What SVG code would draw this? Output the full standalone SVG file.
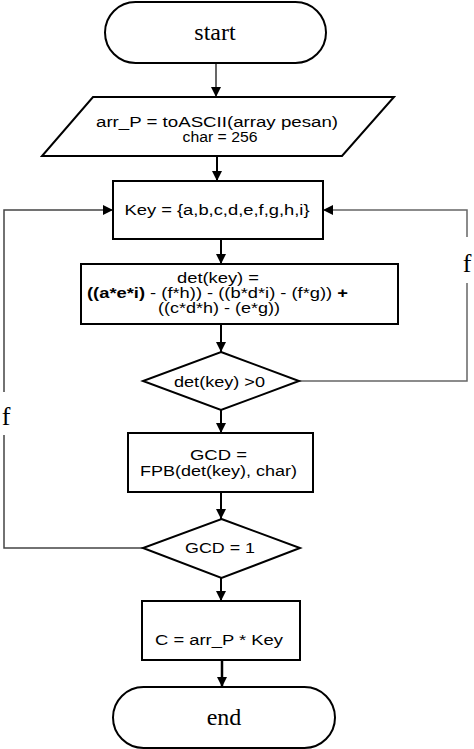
<svg xmlns="http://www.w3.org/2000/svg" width="474" height="749" viewBox="0 0 474 749">
<style>
.sh{fill:#fff;stroke:#000;stroke-width:2}
.t{font-family:"Liberation Sans",Arial,sans-serif;font-size:14px;fill:#000;text-anchor:middle}
.s{font-family:"Liberation Serif","Times New Roman",serif;font-size:24px;fill:#000;text-anchor:middle}
.fl{font-family:"Liberation Serif","Times New Roman",serif;font-size:26px;fill:#000;text-anchor:middle}
.c{fill:none;stroke:#000;stroke-width:2}
.lp{fill:none;stroke:#666;stroke-width:1.5}
</style>
<defs>
<marker id="ah" viewBox="0 0 10 10" refX="10" refY="5" markerWidth="10" markerHeight="10" markerUnits="userSpaceOnUse" orient="auto">
<path d="M0,0 L10,5 L0,10 z" fill="#000"/>
</marker>
<marker id="ah2" viewBox="0 0 10 10" refX="10" refY="5" markerWidth="14" markerHeight="10" markerUnits="userSpaceOnUse" orient="auto">
<path d="M0,0 L10,5 L0,10 z" fill="#000"/>
</marker>
</defs>
<g id="connectors">
<line class="c" x1="216" y1="63" x2="216" y2="97" style="stroke-width:1.2" marker-end="url(#ah)"/>
<line class="c" x1="217" y1="156" x2="217" y2="181" marker-end="url(#ah)"/>
<line class="c" x1="221" y1="239" x2="221" y2="264" marker-end="url(#ah)"/>
<line class="c" x1="221" y1="324" x2="221" y2="352" marker-end="url(#ah)"/>
<line class="c" x1="221" y1="410" x2="221" y2="433" marker-end="url(#ah)"/>
<line class="c" x1="221" y1="492" x2="221" y2="519" marker-end="url(#ah)"/>
<line class="c" x1="221" y1="578" x2="221" y2="601" marker-end="url(#ah)"/>
<line class="c" x1="222" y1="660" x2="222" y2="687" style="stroke-width:2.5" marker-end="url(#ah)"/>
<polyline class="lp" points="299,381 467,381 467,283"/>
<polyline class="lp" points="467,237 467,210 323,210" marker-end="url(#ah2)"/>
<polyline class="lp" points="143,548 4,548 4,435" style="stroke:#444"/>
<polyline class="lp" points="4,392 4,210 113,210" style="stroke:#444" marker-end="url(#ah2)"/>
<text class="fl" x="467" y="272">f</text>
<text class="fl" x="6" y="425">f</text>
</g>
<g id="start">
<rect class="sh" x="105" y="2" width="221" height="61" rx="30.5"/>
<text class="s" x="215" y="40">start</text>
</g>
<g id="input">
<polygon class="sh" points="93,97 394,97 342,156 42,156"/>
<text class="t" x="217" y="127" textLength="242" lengthAdjust="spacingAndGlyphs">arr_P = toASCII(array pesan)</text>
<text class="t" x="220" y="142" textLength="75" lengthAdjust="spacingAndGlyphs">char = 256</text>
</g>
<g id="key">
<rect class="sh" x="113" y="181" width="210" height="58"/>
<text class="t" x="217" y="215" textLength="185" lengthAdjust="spacingAndGlyphs">Key = {a,b,c,d,e,f,g,h,i}</text>
</g>
<g id="det">
<rect class="sh" x="81" y="264" width="317" height="60"/>
<text class="t" x="218" y="283" textLength="82" lengthAdjust="spacingAndGlyphs">det(key) =</text>
<text class="t" x="217.5" y="298" textLength="261" lengthAdjust="spacingAndGlyphs"><tspan font-weight="bold">((a*e*i)</tspan> - (f*h)) - ((b*d*i) - (f*g)) <tspan font-weight="bold">+</tspan></text>
<text class="t" x="219" y="313" textLength="122" lengthAdjust="spacingAndGlyphs">((c*d*h) - (e*g))</text>
</g>
<g id="cond1">
<polygon class="sh" points="221,352 299,381 221,410 143,381"/>
<text class="t" x="219.5" y="387" textLength="91" lengthAdjust="spacingAndGlyphs">det(key) &gt;0</text>
</g>
<g id="gcd">
<rect class="sh" x="128" y="433" width="185" height="59"/>
<text class="t" x="218.5" y="460" textLength="57" lengthAdjust="spacingAndGlyphs">GCD =</text>
<text class="t" x="218.5" y="476" textLength="157" lengthAdjust="spacingAndGlyphs">FPB(det(key), char)</text>
</g>
<g id="cond2">
<polygon class="sh" points="221.5,519 300,548 221.5,578 143,548"/>
<text class="t" x="220" y="553" textLength="70" lengthAdjust="spacingAndGlyphs">GCD = 1</text>
</g>
<g id="encrypt">
<rect class="sh" x="142" y="601" width="158" height="59"/>
<text class="t" x="219" y="645" textLength="128" lengthAdjust="spacingAndGlyphs">C = arr_P * Key</text>
</g>
<g id="end">
<rect class="sh" x="113" y="687" width="222" height="61" rx="30.5"/>
<text class="s" x="224" y="725">end</text>
</g>
</svg>
